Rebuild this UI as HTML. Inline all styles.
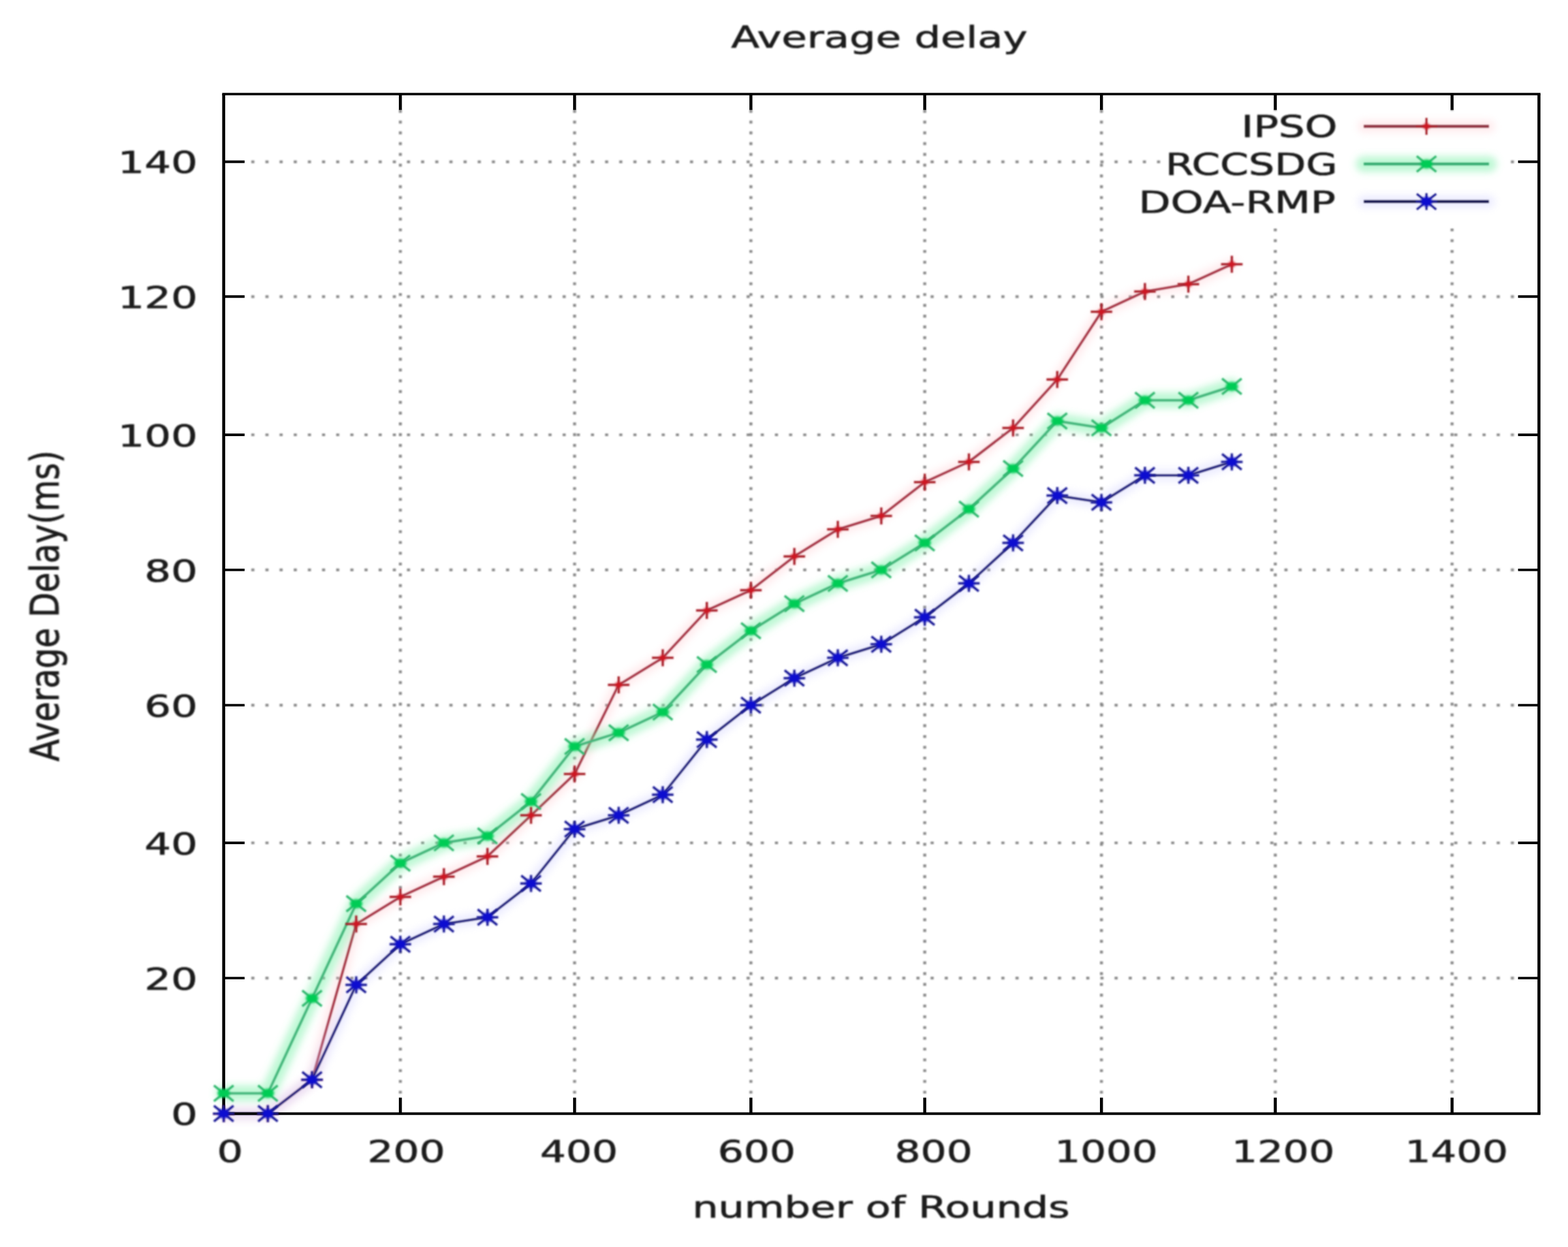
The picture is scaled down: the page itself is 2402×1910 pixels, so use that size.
<!DOCTYPE html>
<html lang="en"><head><meta charset="utf-8"><title>Average delay</title>
<style>html,body{margin:0;padding:0;background:#fff;}body{width:2402px;height:1910px;overflow:hidden;}svg{display:block;font-family:"DejaVu Sans","Liberation Sans",sans-serif;}</style></head><body>
<svg width="2402" height="1910" viewBox="0 0 2402 1910">
<defs><filter id="gl" filterUnits="userSpaceOnUse" x="0" y="0" width="2402" height="1910"><feGaussianBlur stdDeviation="6"/></filter><filter id="bl" filterUnits="userSpaceOnUse" x="0" y="0" width="2402" height="1910"><feGaussianBlur stdDeviation="1.6"/></filter><filter id="soft" filterUnits="userSpaceOnUse" x="0" y="0" width="2402" height="1910"><feGaussianBlur stdDeviation="1.2"/></filter></defs>
<rect width="2402" height="1910" fill="#fff"/>
<g filter="url(#soft)">
<path d="M613.3 168.3V1679.7M880.2 168.3V1679.7M1150.3 168.3V1679.7M1416.6 168.3V1679.7M1687.3 168.3V1679.7M1953.6 168.3V1679.7M2224.4 168.3V1679.7" fill="none" stroke="#8c8c8c" stroke-width="4.6" stroke-dasharray="4.4 12.11"/>
<path d="M384.9 1498.1H2321.5M384.9 1291H2321.5M384.9 1080.1H2321.5M384.9 872.9H2321.5M384.9 666H2321.5M384.9 454.3H2321.5M384.9 247.8H2321.5" fill="none" stroke="#8c8c8c" stroke-width="4.2" stroke-dasharray="4.8 16.88"/>
<path d="M342.7 1705.7 L410.35 1705.7 L478 1653.8 L545.65 1415.26 L613.3 1373.84 L680.02 1342.78 L746.75 1311.71 L813.48 1248.82 L880.2 1185.55 L947.73 1049.02 L1015.25 1007.58 L1082.78 935.06 L1150.3 903.98 L1216.88 852.21 L1283.45 810.83 L1350.02 790.14 L1416.6 738.41 L1484.27 707.38 L1551.95 655.41 L1619.62 581.32 L1687.3 477.59 L1753.88 446.56 L1820.45 435.2 L1887.02 404.74" fill="none" stroke="#ffc4cc" stroke-width="18" stroke-linejoin="round" stroke-linecap="round" opacity="0.35" filter="url(#gl)"/>
<path d="M342.7 1705.7 L410.35 1705.7 L478 1653.8 L545.65 1415.26 L613.3 1373.84 L680.02 1342.78 L746.75 1311.71 L813.48 1248.82 L880.2 1185.55 L947.73 1049.02 L1015.25 1007.58 L1082.78 935.06 L1150.3 903.98 L1216.88 852.21 L1283.45 810.83 L1350.02 790.14 L1416.6 738.41 L1484.27 707.38 L1551.95 655.41 L1619.62 581.32 L1687.3 477.59 L1753.88 446.56 L1820.45 435.2 L1887.02 404.74" fill="none" stroke="#a83848" stroke-width="3.8" stroke-linejoin="round"/>
<path d="M342.7 1674.56 L410.35 1674.56 L478 1529.24 L545.65 1384.19 L613.3 1322.07 L680.02 1291 L746.75 1280.45 L813.48 1227.73 L880.2 1143.37 L947.73 1122.28 L1015.25 1090.64 L1082.78 1017.94 L1150.3 966.14 L1216.88 924.7 L1283.45 893.62 L1350.02 872.9 L1416.6 831.52 L1484.27 779.79 L1551.95 717.73 L1619.62 644.83 L1687.3 655.41 L1753.88 613.08 L1820.45 613.08 L1887.02 591.9" fill="none" stroke="#7af0a8" stroke-width="24" stroke-linejoin="round" stroke-linecap="round" opacity="0.5" filter="url(#gl)"/>
<path d="M342.7 1674.56 L410.35 1674.56 L478 1529.24 L545.65 1384.19 L613.3 1322.07 L680.02 1291 L746.75 1280.45 L813.48 1227.73 L880.2 1143.37 L947.73 1122.28 L1015.25 1090.64 L1082.78 1017.94 L1150.3 966.14 L1216.88 924.7 L1283.45 893.62 L1350.02 872.9 L1416.6 831.52 L1484.27 779.79 L1551.95 717.73 L1619.62 644.83 L1687.3 655.41 L1753.88 613.08 L1820.45 613.08 L1887.02 591.9" fill="none" stroke="#44b67c" stroke-width="3.8" stroke-linejoin="round"/>
<path d="M342.7 1705.7 L410.35 1705.7 L478 1653.8 L545.65 1508.48 L613.3 1446.32 L680.02 1415.26 L746.75 1404.9 L813.48 1353.13 L880.2 1269.91 L947.73 1248.82 L1015.25 1217.18 L1082.78 1132.82 L1150.3 1080.1 L1216.88 1038.66 L1283.45 1007.58 L1350.02 986.86 L1416.6 945.42 L1484.27 893.62 L1551.95 831.52 L1619.62 759.11 L1687.3 769.45 L1753.88 728.07 L1820.45 728.07 L1887.02 707.38" fill="none" stroke="#c8c8ff" stroke-width="18" stroke-linejoin="round" stroke-linecap="round" opacity="0.35" filter="url(#gl)"/>
<path d="M342.7 1705.7 L410.35 1705.7 L478 1653.8 L545.65 1508.48 L613.3 1446.32 L680.02 1415.26 L746.75 1404.9 L813.48 1353.13 L880.2 1269.91 L947.73 1248.82 L1015.25 1217.18 L1082.78 1132.82 L1150.3 1080.1 L1216.88 1038.66 L1283.45 1007.58 L1350.02 986.86 L1416.6 945.42 L1484.27 893.62 L1551.95 831.52 L1619.62 759.11 L1687.3 769.45 L1753.88 728.07 L1820.45 728.07 L1887.02 707.38" fill="none" stroke="#26267e" stroke-width="3.8" stroke-linejoin="round"/>
<rect x="1781" y="170" width="532" height="178" fill="#fff"/>
</g>
<path d="M340.4 144.1H2359.8M340.4 1705.7H2359.8M342.7 1498.1H374.7M2357.5 1498.1H2325.5M342.7 1291H374.7M2357.5 1291H2325.5M342.7 1080.1H374.7M2357.5 1080.1H2325.5M342.7 872.9H374.7M2357.5 872.9H2325.5M342.7 666H374.7M2357.5 666H2325.5M342.7 454.3H374.7M2357.5 454.3H2325.5M342.7 247.8H374.7M2357.5 247.8H2325.5" fill="none" stroke="#000" stroke-width="3.9"/>
<path d="M342.7 144.1V1705.7M2357.5 144.1V1705.7M613.3 1705.7V1681.2M613.3 144.1V168.6M880.2 1705.7V1681.2M880.2 144.1V168.6M1150.3 1705.7V1681.2M1150.3 144.1V168.6M1416.6 1705.7V1681.2M1416.6 144.1V168.6M1687.3 1705.7V1681.2M1687.3 144.1V168.6M1953.6 1705.7V1681.2M1953.6 144.1V168.6M2224.4 1705.7V1681.2M2224.4 144.1V168.6" fill="none" stroke="#000" stroke-width="4.6"/>
<g filter="url(#soft)">
<path d="M326.2 1705.7H359.2M342.7 1692.7V1718.7M393.85 1705.7H426.85M410.35 1692.7V1718.7M461.5 1653.8H494.5M478 1640.8V1666.8M529.15 1415.26H562.15M545.65 1402.26V1428.26M596.8 1373.84H629.8M613.3 1360.84V1386.84M663.52 1342.78H696.52M680.02 1329.78V1355.78M730.25 1311.71H763.25M746.75 1298.71V1324.71M796.98 1248.82H829.98M813.48 1235.82V1261.82M863.7 1185.55H896.7M880.2 1172.55V1198.55M931.23 1049.02H964.23M947.73 1036.02V1062.02M998.75 1007.58H1031.75M1015.25 994.58V1020.58M1066.28 935.06H1099.28M1082.78 922.06V948.06M1133.8 903.98H1166.8M1150.3 890.98V916.98M1200.38 852.21H1233.38M1216.88 839.21V865.21M1266.95 810.83H1299.95M1283.45 797.83V823.83M1333.52 790.14H1366.52M1350.02 777.14V803.14M1400.1 738.41H1433.1M1416.6 725.41V751.41M1467.77 707.38H1500.77M1484.27 694.38V720.38M1535.45 655.41H1568.45M1551.95 642.41V668.41M1603.12 581.32H1636.12M1619.62 568.32V594.32M1670.8 477.59H1703.8M1687.3 464.59V490.59M1737.38 446.56H1770.38M1753.88 433.56V459.56M1803.95 435.2H1836.95M1820.45 422.2V448.2M1870.52 404.74H1903.52M1887.02 391.74V417.74" fill="none" stroke="#a8202c" stroke-width="3.5"/>
<path d="M337.2 1705.7a5.5 4.4 0 1 0 11 0a5.5 4.4 0 1 0 -11 0zM404.85 1705.7a5.5 4.4 0 1 0 11 0a5.5 4.4 0 1 0 -11 0zM472.5 1653.8a5.5 4.4 0 1 0 11 0a5.5 4.4 0 1 0 -11 0zM540.15 1415.26a5.5 4.4 0 1 0 11 0a5.5 4.4 0 1 0 -11 0zM607.8 1373.84a5.5 4.4 0 1 0 11 0a5.5 4.4 0 1 0 -11 0zM674.52 1342.78a5.5 4.4 0 1 0 11 0a5.5 4.4 0 1 0 -11 0zM741.25 1311.71a5.5 4.4 0 1 0 11 0a5.5 4.4 0 1 0 -11 0zM807.98 1248.82a5.5 4.4 0 1 0 11 0a5.5 4.4 0 1 0 -11 0zM874.7 1185.55a5.5 4.4 0 1 0 11 0a5.5 4.4 0 1 0 -11 0zM942.23 1049.02a5.5 4.4 0 1 0 11 0a5.5 4.4 0 1 0 -11 0zM1009.75 1007.58a5.5 4.4 0 1 0 11 0a5.5 4.4 0 1 0 -11 0zM1077.28 935.06a5.5 4.4 0 1 0 11 0a5.5 4.4 0 1 0 -11 0zM1144.8 903.98a5.5 4.4 0 1 0 11 0a5.5 4.4 0 1 0 -11 0zM1211.38 852.21a5.5 4.4 0 1 0 11 0a5.5 4.4 0 1 0 -11 0zM1277.95 810.83a5.5 4.4 0 1 0 11 0a5.5 4.4 0 1 0 -11 0zM1344.52 790.14a5.5 4.4 0 1 0 11 0a5.5 4.4 0 1 0 -11 0zM1411.1 738.41a5.5 4.4 0 1 0 11 0a5.5 4.4 0 1 0 -11 0zM1478.77 707.38a5.5 4.4 0 1 0 11 0a5.5 4.4 0 1 0 -11 0zM1546.45 655.41a5.5 4.4 0 1 0 11 0a5.5 4.4 0 1 0 -11 0zM1614.12 581.32a5.5 4.4 0 1 0 11 0a5.5 4.4 0 1 0 -11 0zM1681.8 477.59a5.5 4.4 0 1 0 11 0a5.5 4.4 0 1 0 -11 0zM1748.38 446.56a5.5 4.4 0 1 0 11 0a5.5 4.4 0 1 0 -11 0zM1814.95 435.2a5.5 4.4 0 1 0 11 0a5.5 4.4 0 1 0 -11 0zM1881.52 404.74a5.5 4.4 0 1 0 11 0a5.5 4.4 0 1 0 -11 0z" fill="#d01420" filter="url(#bl)"/>
<path d="M327.7 1662.56L357.7 1686.56M327.7 1686.56L357.7 1662.56M395.35 1662.56L425.35 1686.56M395.35 1686.56L425.35 1662.56M463 1517.24L493 1541.24M463 1541.24L493 1517.24M530.65 1372.19L560.65 1396.19M530.65 1396.19L560.65 1372.19M598.3 1310.07L628.3 1334.07M598.3 1334.07L628.3 1310.07M665.02 1279L695.02 1303M665.02 1303L695.02 1279M731.75 1268.45L761.75 1292.45M731.75 1292.45L761.75 1268.45M798.48 1215.73L828.48 1239.73M798.48 1239.73L828.48 1215.73M865.2 1131.37L895.2 1155.37M865.2 1155.37L895.2 1131.37M932.73 1110.28L962.73 1134.28M932.73 1134.28L962.73 1110.28M1000.25 1078.64L1030.25 1102.64M1000.25 1102.64L1030.25 1078.64M1067.78 1005.94L1097.78 1029.94M1067.78 1029.94L1097.78 1005.94M1135.3 954.14L1165.3 978.14M1135.3 978.14L1165.3 954.14M1201.88 912.7L1231.88 936.7M1201.88 936.7L1231.88 912.7M1268.45 881.62L1298.45 905.62M1268.45 905.62L1298.45 881.62M1335.02 860.9L1365.02 884.9M1335.02 884.9L1365.02 860.9M1401.6 819.52L1431.6 843.52M1401.6 843.52L1431.6 819.52M1469.27 767.79L1499.27 791.79M1469.27 791.79L1499.27 767.79M1536.95 705.73L1566.95 729.73M1536.95 729.73L1566.95 705.73M1604.62 632.83L1634.62 656.83M1604.62 656.83L1634.62 632.83M1672.3 643.41L1702.3 667.41M1672.3 667.41L1702.3 643.41M1738.88 601.08L1768.88 625.08M1738.88 625.08L1768.88 601.08M1805.45 601.08L1835.45 625.08M1805.45 625.08L1835.45 601.08M1872.02 579.9L1902.02 603.9M1872.02 603.9L1902.02 579.9" fill="none" stroke="#32b870" stroke-width="3.5"/>
<path d="M333.2 1674.56a9.5 7 0 1 0 19 0a9.5 7 0 1 0 -19 0zM400.85 1674.56a9.5 7 0 1 0 19 0a9.5 7 0 1 0 -19 0zM468.5 1529.24a9.5 7 0 1 0 19 0a9.5 7 0 1 0 -19 0zM536.15 1384.19a9.5 7 0 1 0 19 0a9.5 7 0 1 0 -19 0zM603.8 1322.07a9.5 7 0 1 0 19 0a9.5 7 0 1 0 -19 0zM670.52 1291a9.5 7 0 1 0 19 0a9.5 7 0 1 0 -19 0zM737.25 1280.45a9.5 7 0 1 0 19 0a9.5 7 0 1 0 -19 0zM803.98 1227.73a9.5 7 0 1 0 19 0a9.5 7 0 1 0 -19 0zM870.7 1143.37a9.5 7 0 1 0 19 0a9.5 7 0 1 0 -19 0zM938.23 1122.28a9.5 7 0 1 0 19 0a9.5 7 0 1 0 -19 0zM1005.75 1090.64a9.5 7 0 1 0 19 0a9.5 7 0 1 0 -19 0zM1073.28 1017.94a9.5 7 0 1 0 19 0a9.5 7 0 1 0 -19 0zM1140.8 966.14a9.5 7 0 1 0 19 0a9.5 7 0 1 0 -19 0zM1207.38 924.7a9.5 7 0 1 0 19 0a9.5 7 0 1 0 -19 0zM1273.95 893.62a9.5 7 0 1 0 19 0a9.5 7 0 1 0 -19 0zM1340.52 872.9a9.5 7 0 1 0 19 0a9.5 7 0 1 0 -19 0zM1407.1 831.52a9.5 7 0 1 0 19 0a9.5 7 0 1 0 -19 0zM1474.77 779.79a9.5 7 0 1 0 19 0a9.5 7 0 1 0 -19 0zM1542.45 717.73a9.5 7 0 1 0 19 0a9.5 7 0 1 0 -19 0zM1610.12 644.83a9.5 7 0 1 0 19 0a9.5 7 0 1 0 -19 0zM1677.8 655.41a9.5 7 0 1 0 19 0a9.5 7 0 1 0 -19 0zM1744.38 613.08a9.5 7 0 1 0 19 0a9.5 7 0 1 0 -19 0zM1810.95 613.08a9.5 7 0 1 0 19 0a9.5 7 0 1 0 -19 0zM1877.52 591.9a9.5 7 0 1 0 19 0a9.5 7 0 1 0 -19 0z" fill="#00cc55" filter="url(#bl)"/>
<path d="M326.2 1705.7H359.2M342.7 1692.7V1718.7M327.7 1693.7L357.7 1717.7M327.7 1717.7L357.7 1693.7M393.85 1705.7H426.85M410.35 1692.7V1718.7M395.35 1693.7L425.35 1717.7M395.35 1717.7L425.35 1693.7M461.5 1653.8H494.5M478 1640.8V1666.8M463 1641.8L493 1665.8M463 1665.8L493 1641.8M529.15 1508.48H562.15M545.65 1495.48V1521.48M530.65 1496.48L560.65 1520.48M530.65 1520.48L560.65 1496.48M596.8 1446.32H629.8M613.3 1433.32V1459.32M598.3 1434.32L628.3 1458.32M598.3 1458.32L628.3 1434.32M663.52 1415.26H696.52M680.02 1402.26V1428.26M665.02 1403.26L695.02 1427.26M665.02 1427.26L695.02 1403.26M730.25 1404.9H763.25M746.75 1391.9V1417.9M731.75 1392.9L761.75 1416.9M731.75 1416.9L761.75 1392.9M796.98 1353.13H829.98M813.48 1340.13V1366.13M798.48 1341.13L828.48 1365.13M798.48 1365.13L828.48 1341.13M863.7 1269.91H896.7M880.2 1256.91V1282.91M865.2 1257.91L895.2 1281.91M865.2 1281.91L895.2 1257.91M931.23 1248.82H964.23M947.73 1235.82V1261.82M932.73 1236.82L962.73 1260.82M932.73 1260.82L962.73 1236.82M998.75 1217.18H1031.75M1015.25 1204.18V1230.18M1000.25 1205.18L1030.25 1229.18M1000.25 1229.18L1030.25 1205.18M1066.28 1132.82H1099.28M1082.78 1119.82V1145.82M1067.78 1120.82L1097.78 1144.82M1067.78 1144.82L1097.78 1120.82M1133.8 1080.1H1166.8M1150.3 1067.1V1093.1M1135.3 1068.1L1165.3 1092.1M1135.3 1092.1L1165.3 1068.1M1200.38 1038.66H1233.38M1216.88 1025.66V1051.66M1201.88 1026.66L1231.88 1050.66M1201.88 1050.66L1231.88 1026.66M1266.95 1007.58H1299.95M1283.45 994.58V1020.58M1268.45 995.58L1298.45 1019.58M1268.45 1019.58L1298.45 995.58M1333.52 986.86H1366.52M1350.02 973.86V999.86M1335.02 974.86L1365.02 998.86M1335.02 998.86L1365.02 974.86M1400.1 945.42H1433.1M1416.6 932.42V958.42M1401.6 933.42L1431.6 957.42M1401.6 957.42L1431.6 933.42M1467.77 893.62H1500.77M1484.27 880.62V906.62M1469.27 881.62L1499.27 905.62M1469.27 905.62L1499.27 881.62M1535.45 831.52H1568.45M1551.95 818.52V844.52M1536.95 819.52L1566.95 843.52M1536.95 843.52L1566.95 819.52M1603.12 759.11H1636.12M1619.62 746.11V772.11M1604.62 747.11L1634.62 771.11M1604.62 771.11L1634.62 747.11M1670.8 769.45H1703.8M1687.3 756.45V782.45M1672.3 757.45L1702.3 781.45M1672.3 781.45L1702.3 757.45M1737.38 728.07H1770.38M1753.88 715.07V741.07M1738.88 716.07L1768.88 740.07M1738.88 740.07L1768.88 716.07M1803.95 728.07H1836.95M1820.45 715.07V741.07M1805.45 716.07L1835.45 740.07M1805.45 740.07L1835.45 716.07M1870.52 707.38H1903.52M1887.02 694.38V720.38M1872.02 695.38L1902.02 719.38M1872.02 719.38L1902.02 695.38" fill="none" stroke="#1c1c96" stroke-width="3.5"/>
<path d="M334.2 1705.7a8.5 7.2 0 1 0 17 0a8.5 7.2 0 1 0 -17 0zM401.85 1705.7a8.5 7.2 0 1 0 17 0a8.5 7.2 0 1 0 -17 0zM469.5 1653.8a8.5 7.2 0 1 0 17 0a8.5 7.2 0 1 0 -17 0zM537.15 1508.48a8.5 7.2 0 1 0 17 0a8.5 7.2 0 1 0 -17 0zM604.8 1446.32a8.5 7.2 0 1 0 17 0a8.5 7.2 0 1 0 -17 0zM671.52 1415.26a8.5 7.2 0 1 0 17 0a8.5 7.2 0 1 0 -17 0zM738.25 1404.9a8.5 7.2 0 1 0 17 0a8.5 7.2 0 1 0 -17 0zM804.98 1353.13a8.5 7.2 0 1 0 17 0a8.5 7.2 0 1 0 -17 0zM871.7 1269.91a8.5 7.2 0 1 0 17 0a8.5 7.2 0 1 0 -17 0zM939.23 1248.82a8.5 7.2 0 1 0 17 0a8.5 7.2 0 1 0 -17 0zM1006.75 1217.18a8.5 7.2 0 1 0 17 0a8.5 7.2 0 1 0 -17 0zM1074.28 1132.82a8.5 7.2 0 1 0 17 0a8.5 7.2 0 1 0 -17 0zM1141.8 1080.1a8.5 7.2 0 1 0 17 0a8.5 7.2 0 1 0 -17 0zM1208.38 1038.66a8.5 7.2 0 1 0 17 0a8.5 7.2 0 1 0 -17 0zM1274.95 1007.58a8.5 7.2 0 1 0 17 0a8.5 7.2 0 1 0 -17 0zM1341.52 986.86a8.5 7.2 0 1 0 17 0a8.5 7.2 0 1 0 -17 0zM1408.1 945.42a8.5 7.2 0 1 0 17 0a8.5 7.2 0 1 0 -17 0zM1475.77 893.62a8.5 7.2 0 1 0 17 0a8.5 7.2 0 1 0 -17 0zM1543.45 831.52a8.5 7.2 0 1 0 17 0a8.5 7.2 0 1 0 -17 0zM1611.12 759.11a8.5 7.2 0 1 0 17 0a8.5 7.2 0 1 0 -17 0zM1678.8 769.45a8.5 7.2 0 1 0 17 0a8.5 7.2 0 1 0 -17 0zM1745.38 728.07a8.5 7.2 0 1 0 17 0a8.5 7.2 0 1 0 -17 0zM1811.95 728.07a8.5 7.2 0 1 0 17 0a8.5 7.2 0 1 0 -17 0zM1878.52 707.38a8.5 7.2 0 1 0 17 0a8.5 7.2 0 1 0 -17 0z" fill="#1010d0" filter="url(#bl)"/>
<text transform="translate(352.4 1780.3) scale(1.33 1)" font-size="47" text-anchor="middle" fill="#1c1c1c" stroke="#1c1c1c" stroke-width="0.7">0</text>
<text transform="translate(622.4 1780.3) scale(1.33 1)" font-size="47" text-anchor="middle" fill="#1c1c1c" stroke="#1c1c1c" stroke-width="0.7">200</text>
<text transform="translate(886.9 1780.3) scale(1.33 1)" font-size="47" text-anchor="middle" fill="#1c1c1c" stroke="#1c1c1c" stroke-width="0.7">400</text>
<text transform="translate(1159.1 1780.3) scale(1.33 1)" font-size="47" text-anchor="middle" fill="#1c1c1c" stroke="#1c1c1c" stroke-width="0.7">600</text>
<text transform="translate(1430.2 1780.3) scale(1.33 1)" font-size="47" text-anchor="middle" fill="#1c1c1c" stroke="#1c1c1c" stroke-width="0.7">800</text>
<text transform="translate(1694.5 1780.3) scale(1.32 1)" font-size="47" text-anchor="middle" fill="#1c1c1c" stroke="#1c1c1c" stroke-width="0.7">1000</text>
<text transform="translate(1965.6 1780.3) scale(1.32 1)" font-size="47" text-anchor="middle" fill="#1c1c1c" stroke="#1c1c1c" stroke-width="0.7">1200</text>
<text transform="translate(2231.2 1780.3) scale(1.32 1)" font-size="47" text-anchor="middle" fill="#1c1c1c" stroke="#1c1c1c" stroke-width="0.7">1400</text>
<text transform="translate(302.6 1723.3) scale(1.36 1)" font-size="47" text-anchor="end" fill="#1c1c1c" stroke="#1c1c1c" stroke-width="0.7">0</text>
<text transform="translate(302.6 1515.7) scale(1.36 1)" font-size="47" text-anchor="end" fill="#1c1c1c" stroke="#1c1c1c" stroke-width="0.7">20</text>
<text transform="translate(302.6 1308.6) scale(1.36 1)" font-size="47" text-anchor="end" fill="#1c1c1c" stroke="#1c1c1c" stroke-width="0.7">40</text>
<text transform="translate(302.6 1097.7) scale(1.36 1)" font-size="47" text-anchor="end" fill="#1c1c1c" stroke="#1c1c1c" stroke-width="0.7">60</text>
<text transform="translate(302.6 890.5) scale(1.36 1)" font-size="47" text-anchor="end" fill="#1c1c1c" stroke="#1c1c1c" stroke-width="0.7">80</text>
<text transform="translate(302.6 683.6) scale(1.36 1)" font-size="47" text-anchor="end" fill="#1c1c1c" stroke="#1c1c1c" stroke-width="0.7">100</text>
<text transform="translate(302.6 471.9) scale(1.36 1)" font-size="47" text-anchor="end" fill="#1c1c1c" stroke="#1c1c1c" stroke-width="0.7">120</text>
<text transform="translate(302.6 265.4) scale(1.36 1)" font-size="47" text-anchor="end" fill="#1c1c1c" stroke="#1c1c1c" stroke-width="0.7">140</text>
<text transform="translate(1347 72.9) scale(1.35 1)" font-size="47" text-anchor="middle" fill="#1c1c1c" stroke="#1c1c1c" stroke-width="0.7">Average delay</text>
<text transform="translate(1349.6 1864.6) scale(1.34 1)" font-size="47" text-anchor="middle" fill="#1c1c1c" stroke="#1c1c1c" stroke-width="0.7">number of Rounds</text>
<text transform="translate(89.2 928) rotate(-90) scale(1.06 1.3)" font-size="47" text-anchor="middle" fill="#1c1c1c" stroke="#1c1c1c" stroke-width="0.7">Average Delay(ms)</text>
<text transform="translate(2048.6 209.8) scale(1.35 1)" font-size="47" text-anchor="end" fill="#1c1c1c" stroke="#1c1c1c" stroke-width="0.7">IPSO</text>
<path d="M2089 193.5H2281" fill="none" stroke="#ffc4cc" stroke-width="18" stroke-linejoin="round" stroke-linecap="round" opacity="0.35" filter="url(#gl)"/>
<path d="M2089 193.5H2281" fill="none" stroke="#8e3040" stroke-width="4.4" stroke-linejoin="round"/>
<path d="M2168.7 193.5H2201.7M2185.2 180.5V206.5" fill="none" stroke="#a8202c" stroke-width="3.5"/>
<path d="M2179.7 193.5a5.5 4.4 0 1 0 11 0a5.5 4.4 0 1 0 -11 0z" fill="#d01420" filter="url(#bl)"/>
<text transform="translate(2049 268.1) scale(1.33 1)" font-size="47" text-anchor="end" fill="#1c1c1c" stroke="#1c1c1c" stroke-width="0.7">RCCSDG</text>
<path d="M2089 251.15H2281" fill="none" stroke="#7af0a8" stroke-width="24" stroke-linejoin="round" stroke-linecap="round" opacity="0.5" filter="url(#gl)"/>
<path d="M2089 251.15H2281" fill="none" stroke="#34ac72" stroke-width="4.4" stroke-linejoin="round"/>
<path d="M2170.2 239.15L2200.2 263.15M2170.2 263.15L2200.2 239.15" fill="none" stroke="#32b870" stroke-width="3.5"/>
<path d="M2175.7 251.15a9.5 7 0 1 0 19 0a9.5 7 0 1 0 -19 0z" fill="#00cc55" filter="url(#bl)"/>
<text transform="translate(2046 326.4) scale(1.36 1)" font-size="47" text-anchor="end" fill="#1c1c1c" stroke="#1c1c1c" stroke-width="0.7">DOA-RMP</text>
<path d="M2089 308.8H2281" fill="none" stroke="#c8c8ff" stroke-width="18" stroke-linejoin="round" stroke-linecap="round" opacity="0.35" filter="url(#gl)"/>
<path d="M2089 308.8H2281" fill="none" stroke="#16164e" stroke-width="4.4" stroke-linejoin="round"/>
<path d="M2168.7 308.8H2201.7M2185.2 295.8V321.8M2170.2 296.8L2200.2 320.8M2170.2 320.8L2200.2 296.8" fill="none" stroke="#1c1c96" stroke-width="3.5"/>
<path d="M2176.7 308.8a8.5 7.2 0 1 0 17 0a8.5 7.2 0 1 0 -17 0z" fill="#1010d0" filter="url(#bl)"/>
</g>
</svg></body></html>
